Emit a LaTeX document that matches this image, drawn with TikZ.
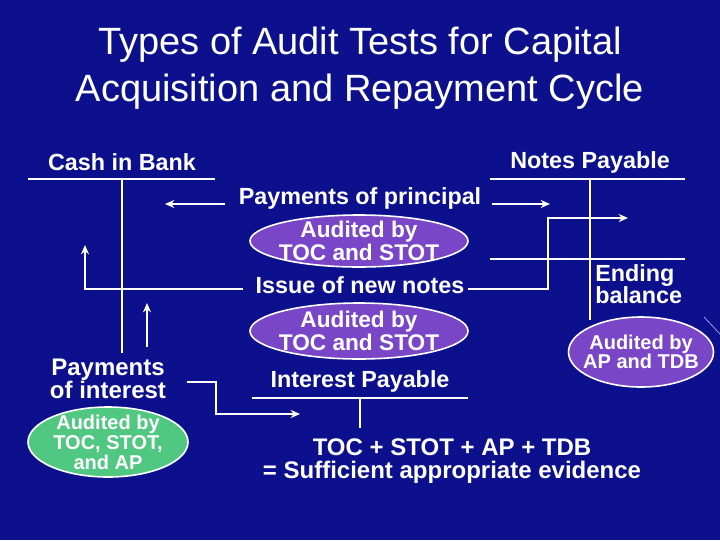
\documentclass[tikz,border=0pt]{standalone}
\usepackage{fontspec}
\setmainfont{Liberation Sans}
\usetikzlibrary{shapes.geometric,arrows.meta}
\definecolor{bg}{RGB}{12,16,140}
\definecolor{purp}{RGB}{122,70,200}
\definecolor{grn}{RGB}{80,200,130}
\begin{document}
\begin{tikzpicture}[x=0.75pt,y=-0.75pt,
  txt/.style={text=white,font=\bfseries\fontsize{17.5}{17}\selectfont,align=center,inner sep=0pt},
  ln/.style={white,line width=1.6pt},
  ar/.style={ln,-{Stealth[length=7pt,width=6pt]}},
  ell/.style={ellipse,draw=white,line width=1.2pt,text=white,align=center,inner xsep=-12pt,inner ysep=-6pt,font=\bfseries\fontsize{17}{17}\selectfont}]
\fill[bg] (0,0) rectangle (720,540);
\useasboundingbox (0,0) rectangle (720,540);
\node[text=white,font=\fontsize{28.5}{35}\selectfont,align=center] (title) at (360,68) {Types of Audit Tests for Capital\\Acquisition and Repayment Cycle};
% Cash in Bank
\node[txt] (cash) at (122,162) {Cash in Bank};
\coordinate (c1) at (28,179); \coordinate (c2) at (215,179);
\coordinate (c3) at (122,179); \coordinate (c4) at (122,353);
\draw[ln] (c1) -- (c2); \draw[ln] (c3) -- (c4);
% Notes Payable
\node[txt] (notes) at (590,162) {Notes Payable};
\coordinate (n1) at (490,179); \coordinate (n2) at (685,179);
\coordinate (n3) at (590,179); \coordinate (n4) at (590,320);
\coordinate (n5) at (490,259); \coordinate (n6) at (685,259);
\draw[ln] (n1) -- (n2); \draw[ln] (n3) -- (n4); \draw[ln] (n5) -- (n6);
% principal
\node[txt] (princ) at (360,198) {Payments of principal};
\coordinate (p1) at (225,204); \coordinate (p2) at (165,204);
\coordinate (p3) at (492,204); \coordinate (p4) at (550,204);
\draw[ar] (p1) -- (p2); \draw[ar] (p3) -- (p4);
\node[ell,fill=purp,minimum width={218*0.75pt},minimum height={52*0.75pt}] (e1) at (359,241) {Audited by\\TOC and STOT};
% issue
\node[txt] (issue) at (360,285) {Issue of new notes};
\coordinate (i1) at (243,289); \coordinate (i2) at (85,289); \coordinate (i3) at (85,245);
\coordinate (i4) at (468,289); \coordinate (i5) at (548,289); \coordinate (i6) at (548,218); \coordinate (i7) at (628,218);
\draw[ar] (i1) -- (i2) -- (i3);
\draw[ar] (i4) -- (i5) -- (i6) -- (i7);
\node[ell,fill=purp,minimum width={218*0.75pt},minimum height={56*0.75pt}] (e2) at (359,331) {Audited by\\TOC and STOT};
\node[txt,align=left,anchor=west] (end) at (595,284) {Ending\\balance};
\node[ell,fill=purp,minimum width={145*0.75pt},minimum height={70*0.75pt},font=\bfseries\fontsize{15}{14.5}\selectfont] (e3) at (641,352) {Audited by\\AP and TDB};
\coordinate (d1) at (704,317); \coordinate (d2) at (720,334);
\draw[purp!60!white,line width=0.6pt] (d1) -- (d2);
% interest
\coordinate (a1) at (147,347); \coordinate (a2) at (147,303);
\draw[ar] (a1) -- (a2);
\node[txt,font=\bfseries\fontsize{18}{17}\selectfont] (pint) at (108,379) {Payments\\of interest};
\node[ell,fill=grn,minimum width={160*0.75pt},minimum height={70*0.75pt},font=\bfseries\fontsize{15}{15}\selectfont] (e4) at (108,442) {Audited by\\TOC, STOT,\\and AP};
\coordinate (b1) at (187,382); \coordinate (b2) at (216,382); \coordinate (b3) at (216,414); \coordinate (b4) at (300,414);
\draw[ar] (b1) -- (b2) -- (b3) -- (b4);
\node[txt] (ip) at (360,381) {Interest Payable};
\coordinate (q1) at (252,398); \coordinate (q2) at (468,398);
\coordinate (q3) at (360,398); \coordinate (q4) at (360,428);
\draw[ln] (q1) -- (q2); \draw[ln] (q3) -- (q4);
\node[txt,font=\bfseries\fontsize{18}{17.5}\selectfont] (sum) at (452,461) {TOC + STOT + AP + TDB\\= Sufficient appropriate evidence};
\end{tikzpicture}
\end{document}
